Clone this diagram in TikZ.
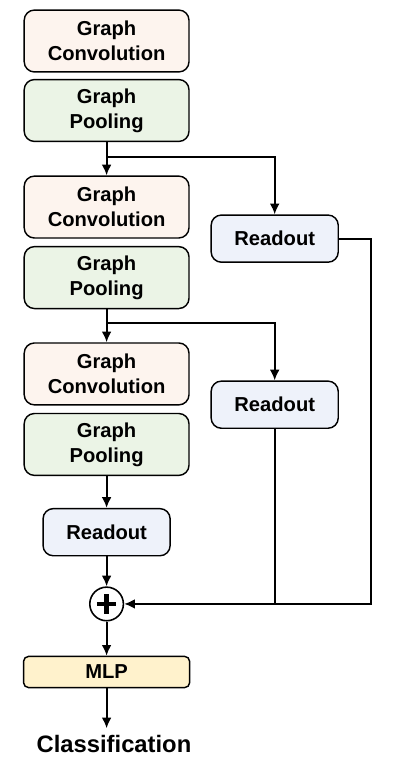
\documentclass[tikz,border=0pt]{standalone}
\usepackage{fontspec}
\setmainfont{Liberation Sans}
\usetikzlibrary{arrows.meta,calc}

\definecolor{convfill}{HTML}{FDF4EE}
\definecolor{poolfill}{HTML}{EBF4E6}
\definecolor{readfill}{HTML}{EEF2FA}
\definecolor{mlpfill}{HTML}{FFF2CC}

\begin{document}
\begin{tikzpicture}[
    box/.style={draw, line width=1pt, rounded corners=0.25cm, align=center,
      font=\fontsize{14}{17.5}\selectfont\bfseries},
    layer/.style={box, minimum width=4.02cm, minimum height=1.51cm},
    conv/.style={layer, fill=convfill},
    pool/.style={layer, fill=poolfill},
    readout/.style={box, fill=readfill, minimum width=3.1cm, minimum height=1.15cm},
    mlp/.style={box, fill=mlpfill, rounded corners=0.12cm, minimum width=4.05cm, minimum height=0.76cm},
    flow/.style={line width=1.4pt, -{Latex[length=0.26cm,width=0.24cm]}},
    wire/.style={line width=1.4pt}
  ]
  %uncomment to see grid on which it was generated:
  %\draw[dotted,step=1.0,black,very thin] (0,0) grid (10,-18.63);
  \useasboundingbox (0,0) rectangle (10,-18.634);

  % first block
  \node[conv] (conv1) at (2.6,-1.0)  {Graph\\Convolution};
  \node[pool] (pool1) at (2.6,-2.695) {Graph\\Pooling};

  % second block
  \node[conv] (conv2) at (2.6,-5.05) {Graph\\Convolution};
  \node[pool] (pool2) at (2.6,-6.77) {Graph\\Pooling};

  % third block
  \node[conv] (conv3) at (2.6,-9.12) {Graph\\Convolution};
  \node[pool] (pool3) at (2.6,-10.84) {Graph\\Pooling};

  % readouts
  \node[readout] (read1) at (6.7,-5.82)  {Readout};
  \node[readout] (read2) at (6.7,-9.87)  {Readout};
  \node[readout] (read3) at (2.6,-12.98) {Readout};

  % sum, classifier and output
  \node[draw, circle, line width=1.1pt, minimum size=0.82cm, inner sep=0pt] (sum) at (2.6,-14.73) {};
  \draw[line width=3.3pt] ($(sum.center)+(-0.24,0)$) -- ($(sum.center)+(0.24,0)$);
  \draw[line width=3.3pt] ($(sum.center)+(0,-0.24)$) -- ($(sum.center)+(0,0.24)$);
  \node[mlp] (mlp) at (2.6,-16.39) {MLP};
  \node[font=\fontsize{16.5}{20}\selectfont\bfseries] (cls) at (2.78,-18.15) {Classification};

  % branch points
  \coordinate (b1) at (2.6,-3.83);
  \coordinate (b2) at (2.6,-7.88);
  \coordinate (r1) at (9.05,-5.82);

  % main flow
  \draw[flow] (pool1) -- (conv2);
  \draw[flow] (pool2) -- (conv3);
  \draw[flow] (pool3) -- (read3);
  \draw[flow] (read3) -- (sum);
  \draw[flow] (sum) -- (mlp);
  \draw[flow] (mlp) -- ($(mlp |- cls.north)+(0,0.05)$);

  % skip connections
  \draw[flow] (b1) -| (read1.north);
  \draw[flow] (b2) -| (read2.north);
  \draw[flow] (read1.east) -- (r1) |- (sum.east);
  \draw[wire] (read2.south) -- (read2.south |- sum.east);

\end{tikzpicture}
\end{document}
